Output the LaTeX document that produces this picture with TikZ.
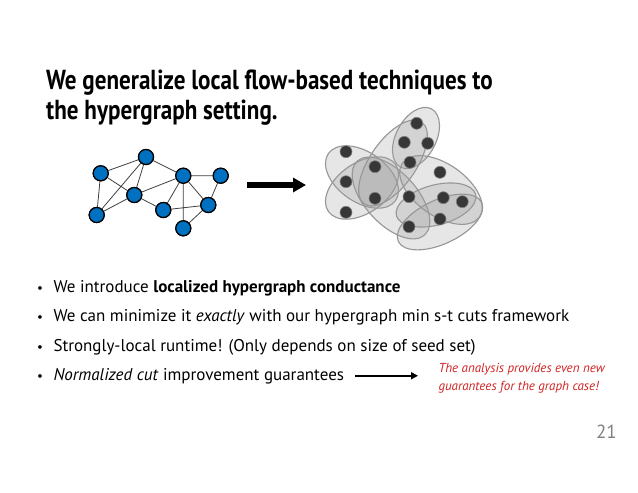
\documentclass[tikz,border=0pt]{standalone}
\usepackage{fontspec}
\setmainfont{PT Sans}
\newfontfamily\titlefont[FakeStretch=0.84]{PT Sans}
\newfontfamily\notefont[FakeStretch=1.0]{PT Sans}
\usetikzlibrary{arrows.meta}
\definecolor{nodeblue}{RGB}{0,112,192}
\definecolor{notered}{RGB}{210,35,35}
\definecolor{dotgray}{RGB}{55,55,55}
\definecolor{hborder}{RGB}{150,150,150}
\begin{document}
\begin{tikzpicture}[x=1pt,y=-1pt,
  gnode/.style={circle,fill=nodeblue,draw=black,line width=1.2pt,minimum size=15pt,inner sep=0pt},
  edge/.style={draw=black!75,line width=0.8pt},
  hedge/.style={fill=black!38,fill opacity=0.25,draw=hborder,line width=1.1pt},
  hdot/.style={circle,fill=dotgray,draw=black!50,line width=0.6pt,minimum size=12pt,inner sep=0pt},
  title/.style={anchor=base west,inner sep=0pt,font=\titlefont\bfseries\fontsize{27.5}{28}\selectfont},
  body/.style={anchor=base west,inner sep=0pt,font=\fontsize{17}{20}\selectfont},
  bul/.style={anchor=base,inner sep=0pt,font=\fontsize{13}{15}\selectfont},
  note/.style={anchor=base west,inner sep=0pt,text=notered,font=\notefont\itshape\fontsize{13}{15}\selectfont},
  arr/.style={line width=1.8pt,-{Triangle[length=7pt,width=7pt]}}
]
\useasboundingbox (0,0) rectangle (638,493);
\fill[white] (0,0) rectangle (638,493);

% title
\node[title] (t1) at (46,89.5) {We generalize local flow-based techniques to};
\node[title] (t2) at (46,119) {the hypergraph setting.};

% graph
\node[gnode] (A) at (146,157) {};
\node[gnode] (B) at (100.7,173.3) {};
\node[gnode] (C) at (183.3,175.7) {};
\node[gnode] (D) at (220.7,175.7) {};
\node[gnode] (E) at (134.3,195) {};
\node[gnode] (F) at (96.7,215) {};
\node[gnode] (G) at (163.3,210) {};
\node[gnode] (H) at (208.3,205) {};
\node[gnode] (I) at (183.3,228.3) {};
\path[edge] (A) -- (B) (A) -- (E) (A) -- (F) (A) -- (C) (B) -- (F) (B) -- (E)
  (F) -- (E) (E) -- (G) (E) -- (C) (C) -- (D) (C) -- (G) (C) -- (H) (C) -- (I)
  (D) -- (H) (G) -- (H) (H) -- (I);
\node[gnode] at (A) {};
\node[gnode] at (B) {};
\node[gnode] at (C) {};
\node[gnode] at (D) {};
\node[gnode] at (E) {};
\node[gnode] at (F) {};
\node[gnode] at (G) {};
\node[gnode] at (H) {};
\node[gnode] at (I) {};

% big arrow
\coordinate (bs) at (247,185);
\coordinate (be) at (306,185);
\draw[line width=6.5pt,-{Triangle[length=13pt,width=14pt]}] (bs) -- (be);

% hypergraph
\draw[hedge,rotate around={-35:(362,177)}] (362,177) ellipse [x radius=41,y radius=25];
\draw[hedge,rotate around={35:(362,188)}] (362,188) ellipse [x radius=41,y radius=25];
\draw[hedge,rotate around={-47.6:(391,198)}] (391,198) ellipse [x radius=50,y radius=26];
\draw[hedge,rotate around={62:(416,138)}] (416,138) ellipse [x radius=33,y radius=20];
\draw[hedge,rotate around={55:(393,163)}] (393,163) ellipse [x radius=50,y radius=23];
\draw[hedge,rotate around={-35:(441,190)}] (441,190) ellipse [x radius=47,y radius=26];
\draw[hedge,rotate around={15:(436,205)}] (436,205) ellipse [x radius=41,y radius=20];
\draw[hedge,rotate around={25:(440,222)}] (440,222) ellipse [x radius=46,y radius=22];

\node[hdot] (d1) at (416.7,123.3) {};
\node[hdot] (d2) at (404.3,142.3) {};
\node[hdot] (d3) at (427.7,143.3) {};
\node[hdot] (d4) at (346,151.7) {};
\node[hdot] (d5) at (410,162.3) {};
\node[hdot] (d6) at (375,166.7) {};
\node[hdot] (d7) at (440,172.3) {};
\node[hdot] (d8) at (346,181.7) {};
\node[hdot] (d9) at (375,198.3) {};
\node[hdot] (d10) at (409,196.7) {};
\node[hdot] (d11) at (443.3,197.7) {};
\node[hdot] (d12) at (462.3,201.7) {};
\node[hdot] (d13) at (346,212.3) {};
\node[hdot] (d14) at (440,219) {};
\node[hdot] (d15) at (409,226.7) {};

% bullets
\node[bul] (u1) at (40,292.7) {•};
\node[body] (b1) at (53.3,292.7) {We introduce \textbf{localized hypergraph conductance}};
\node[bul] (u2) at (40,321.7) {•};
\node[body] (b2) at (53.3,321.7) {We can minimize it \textit{exactly} with our hypergraph min s-t cuts framework};
\node[bul] (u3) at (40,351) {•};
\node[body] (b3) at (53.3,351) {Strongly-local runtime! (Only depends on size of seed set)};
\node[bul] (u4) at (40,380) {•};
\node[body] (b4) at (53.3,380) {\textit{Normalized cut} improvement guarantees};

\node[note] (r1) at (438.3,372) {The analysis provides even new};
\node[note] (r2) at (438.3,390) {guarantees for the graph case!};
\coordinate (ae) at (418,376);
\draw[arr,shorten <=11pt] (b4.east) -- (b4.east -| ae);

\node[anchor=base east,inner sep=0pt,text=black!50,font=\fontsize{19}{20}\selectfont] (pg) at (617,438) {21};
\end{tikzpicture}
\end{document}
